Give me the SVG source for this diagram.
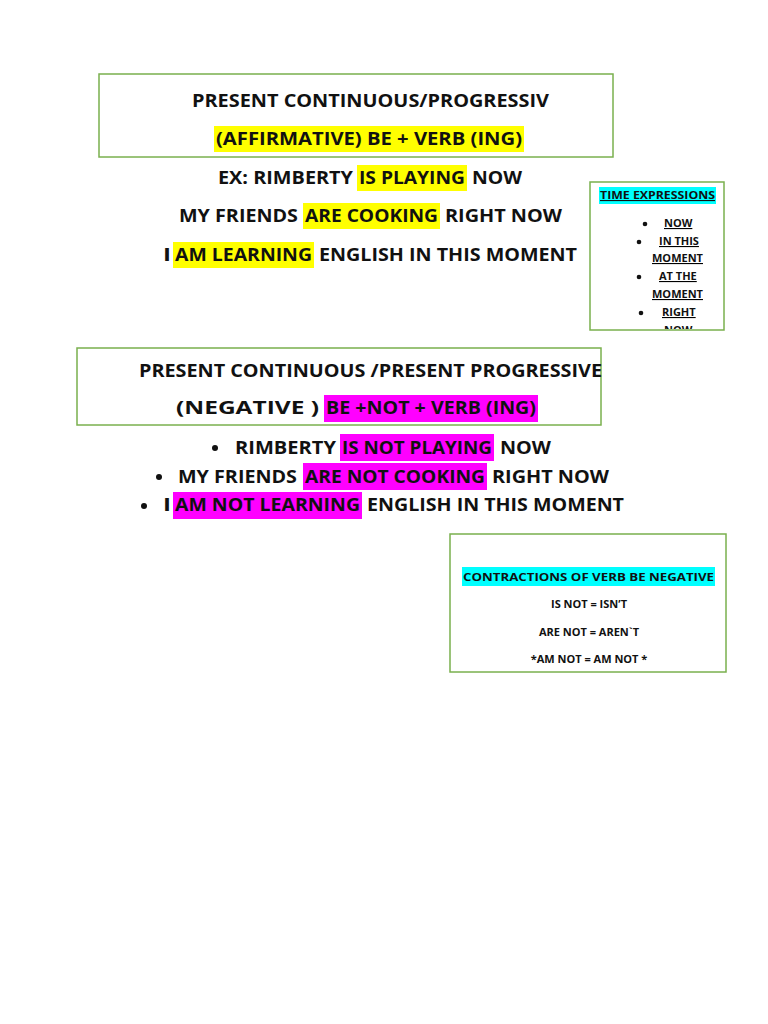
<svg xmlns="http://www.w3.org/2000/svg" width="768" height="1024" viewBox="0 0 768 1024">
<style>
.t{font-family:"Open Sans","Liberation Sans",sans-serif;font-weight:bold;font-size:18px;fill:#111}
.s{font-family:"Open Sans","Liberation Sans",sans-serif;font-weight:bold;font-size:11px;fill:#111}
.box{fill:#fff;stroke:#7ab04e;stroke-width:1.5}
.y{fill:#ffff00}.m{fill:#ff00ff}.c{fill:#00ffff}
</style>
<rect width="768" height="1024" fill="#fff"/>
<g id="affirmative">
<rect class="box" x="99" y="74" width="514" height="83"/>
<text class="t" x="192" y="107" textLength="357" lengthAdjust="spacingAndGlyphs">PRESENT CONTINUOUS/PROGRESSIV</text>
<rect class="y" x="214" y="126" width="310" height="26"/>
<text class="t" x="216" y="145" textLength="306" lengthAdjust="spacingAndGlyphs">(AFFIRMATIVE) BE + VERB (ING)</text>
</g>
<g id="examples">
<text class="t" x="218" y="184" textLength="135" lengthAdjust="spacingAndGlyphs">EX: RIMBERTY</text>
<rect class="y" x="357" y="165" width="110" height="26"/>
<text class="t" x="359" y="184" textLength="106" lengthAdjust="spacingAndGlyphs">IS PLAYING</text>
<text class="t" x="472" y="184" textLength="50" lengthAdjust="spacingAndGlyphs">NOW</text>
<text class="t" x="179" y="222" textLength="119" lengthAdjust="spacingAndGlyphs">MY FRIENDS</text>
<rect class="y" x="303" y="203" width="137" height="26"/>
<text class="t" x="305" y="222" textLength="133" lengthAdjust="spacingAndGlyphs">ARE COOKING</text>
<text class="t" x="445" y="222" textLength="117" lengthAdjust="spacingAndGlyphs">RIGHT NOW</text>
<text class="t" x="163" y="261" textLength="8" lengthAdjust="spacingAndGlyphs">I</text>
<rect class="y" x="173" y="242" width="141" height="26"/>
<text class="t" x="175" y="261" textLength="137" lengthAdjust="spacingAndGlyphs">AM LEARNING</text>
<text class="t" x="319" y="261" textLength="258" lengthAdjust="spacingAndGlyphs">ENGLISH IN THIS MOMENT</text>
</g>
<g id="time-expressions">
<rect class="box" x="590" y="182" width="134" height="148"/>
<rect class="c" x="599" y="187" width="117" height="17"/>
<text class="s" x="600" y="199" textLength="115" lengthAdjust="spacingAndGlyphs" text-decoration="underline">TIME EXPRESSIONS</text>
<g text-decoration="underline">
<circle cx="645" cy="224" r="2.3" fill="#111"/><text class="s" x="664" y="227">NOW</text>
<circle cx="639" cy="242" r="2.3" fill="#111"/><text class="s" x="659" y="245">IN THIS</text>
<text class="s" x="652" y="262">MOMENT</text>
<circle cx="639" cy="277" r="2.3" fill="#111"/><text class="s" x="659" y="280">AT THE</text>
<text class="s" x="652" y="298">MOMENT</text>
<circle cx="641" cy="313" r="2.3" fill="#111"/><text class="s" x="662" y="316">RIGHT</text>
</g>
<clipPath id="cl"><rect x="590" y="320" width="134" height="9"/></clipPath>
<text class="s" x="664" y="334" clip-path="url(#cl)" text-decoration="underline">NOW</text>
</g>
<g id="negative">
<rect class="box" x="77" y="348" width="524" height="77"/>
<text class="t" x="139" y="377" textLength="463" lengthAdjust="spacingAndGlyphs">PRESENT CONTINUOUS /PRESENT PROGRESSIVE</text>
<text class="t" x="176" y="414" textLength="143" lengthAdjust="spacingAndGlyphs">(NEGATIVE )</text>
<rect class="m" x="324" y="395" width="214" height="27"/>
<text class="t" x="326" y="414" textLength="210" lengthAdjust="spacingAndGlyphs">BE +NOT + VERB (ING)</text>
</g>
<g id="negative-examples">
<circle cx="215" cy="448" r="3" fill="#111"/>
<text class="t" x="235" y="454" textLength="101" lengthAdjust="spacingAndGlyphs">RIMBERTY</text>
<rect class="m" x="340" y="434" width="154" height="27"/>
<text class="t" x="342" y="454" textLength="150" lengthAdjust="spacingAndGlyphs">IS NOT PLAYING</text>
<text class="t" x="500" y="454" textLength="51" lengthAdjust="spacingAndGlyphs">NOW</text>
<circle cx="159" cy="477" r="3" fill="#111"/>
<text class="t" x="178" y="483" textLength="119" lengthAdjust="spacingAndGlyphs">MY FRIENDS</text>
<rect class="m" x="303" y="463" width="184" height="27"/>
<text class="t" x="305" y="483" textLength="180" lengthAdjust="spacingAndGlyphs">ARE NOT COOKING</text>
<text class="t" x="492" y="483" textLength="117" lengthAdjust="spacingAndGlyphs">RIGHT NOW</text>
<circle cx="144" cy="506" r="3" fill="#111"/>
<text class="t" x="163" y="511" textLength="8" lengthAdjust="spacingAndGlyphs">I</text>
<rect class="m" x="173" y="492" width="189" height="27"/>
<text class="t" x="175" y="511" textLength="185" lengthAdjust="spacingAndGlyphs">AM NOT LEARNING</text>
<text class="t" x="367" y="511" textLength="257" lengthAdjust="spacingAndGlyphs">ENGLISH IN THIS MOMENT</text>
</g>
<g id="contractions">
<rect class="box" x="450" y="534" width="276" height="138"/>
<rect class="c" x="462" y="567" width="253" height="19"/>
<text class="s" x="463" y="581" textLength="251" lengthAdjust="spacingAndGlyphs">CONTRACTIONS OF VERB BE NEGATIVE</text>
<text class="s" x="589" y="608" text-anchor="middle">IS NOT = ISN’T</text>
<text class="s" x="589" y="636" text-anchor="middle">ARE NOT = AREN`T</text>
<text class="s" x="589" y="663" text-anchor="middle">*AM NOT = AM NOT *</text>
</g>
</svg>
